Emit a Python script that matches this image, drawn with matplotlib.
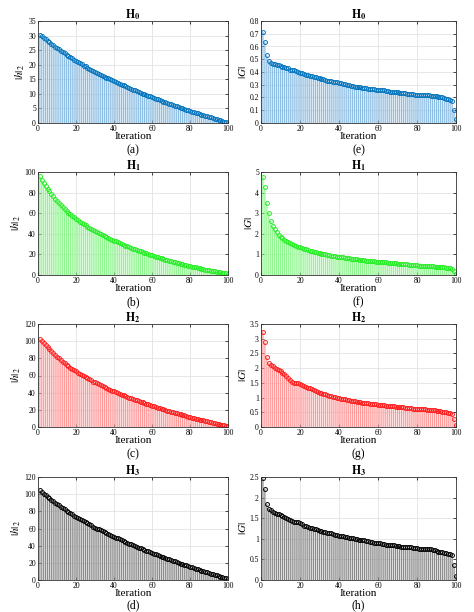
import matplotlib
matplotlib.use("Agg")
import matplotlib.pyplot as plt
import numpy as np

plt.rcParams['font.family'] = ['Liberation Serif', 'DejaVu Serif']
plt.rcParams['mathtext.fontset'] = 'stix'

iterations = list(range(1, 101))

h_H0 = [30.2, 29.7, 29.2, 28.7, 28.2, 27.7, 27.2, 26.7, 26.2, 25.7,
        25.3, 24.8, 24.4, 23.9, 23.5, 23.0, 22.6, 22.2, 21.7, 21.3,
        20.9, 20.5, 20.1, 19.7, 19.4, 19.0, 18.6, 18.3, 17.9, 17.6,
        17.2, 16.9, 16.6, 16.2, 15.9, 15.6, 15.3, 15.0, 14.7, 14.4,
        14.1, 13.8, 13.5, 13.2, 12.9, 12.6, 12.3, 12.0, 11.7, 11.4,
        11.2, 10.9, 10.6, 10.3, 10.1, 9.8, 9.6, 9.3, 9.1, 8.8,
        8.6, 8.3, 8.1, 7.8, 7.6, 7.3, 7.1, 6.8, 6.6, 6.4,
        6.1, 5.9, 5.7, 5.4, 5.2, 5.0, 4.8, 4.5, 4.3, 4.1,
        3.9, 3.7, 3.5, 3.3, 3.1, 2.9, 2.7, 2.5, 2.3, 2.1,
        1.9, 1.7, 1.5, 1.3, 1.1, 0.9, 0.7, 0.5, 0.3, 0.1]

h_H1 = [95.8, 92.6, 89.5, 86.6, 83.8, 81.2, 78.7, 76.3, 74.0, 71.8,
        69.7, 67.7, 65.8, 64.0, 62.3, 60.6, 59.0, 57.5, 56.0, 54.6,
        53.2, 51.9, 50.6, 49.4, 48.2, 47.0, 45.9, 44.8, 43.7, 42.7,
        41.7, 40.7, 39.7, 38.8, 37.8, 36.9, 36.0, 35.1, 34.3, 33.4,
        32.6, 31.8, 31.0, 30.2, 29.4, 28.6, 27.9, 27.1, 26.4, 25.7,
        25.0, 24.3, 23.6, 22.9, 22.2, 21.6, 20.9, 20.3, 19.7, 19.1,
        18.5, 17.9, 17.3, 16.7, 16.1, 15.6, 15.0, 14.5, 14.0, 13.4,
        12.9, 12.4, 11.9, 11.4, 10.9, 10.5, 10.0, 9.5, 9.1, 8.6,
        8.2, 7.8, 7.3, 6.9, 6.5, 6.1, 5.7, 5.3, 5.0, 4.6,
        4.2, 3.9, 3.5, 3.2, 2.8, 2.5, 2.1, 1.8, 1.5, 1.1]

h_H2 = [102.5, 100.0, 97.6, 95.2, 92.9, 90.6, 88.4, 86.2, 84.1, 82.0,
        80.0, 78.1, 76.2, 74.4, 72.6, 70.9, 69.3, 67.7, 66.2, 64.7,
        63.3, 61.9, 60.5, 59.2, 57.9, 56.6, 55.4, 54.2, 53.0, 51.9,
        50.8, 49.7, 48.6, 47.5, 46.5, 45.4, 44.4, 43.4, 42.4, 41.5,
        40.5, 39.6, 38.7, 37.8, 36.9, 36.0, 35.1, 34.3, 33.4, 32.6,
        31.8, 31.0, 30.2, 29.4, 28.6, 27.9, 27.1, 26.4, 25.6, 24.9,
        24.2, 23.4, 22.7, 22.0, 21.3, 20.6, 19.9, 19.2, 18.6, 17.9,
        17.2, 16.6, 15.9, 15.3, 14.7, 14.0, 13.4, 12.8, 12.2, 11.6,
        11.0, 10.4, 9.8, 9.3, 8.7, 8.1, 7.6, 7.0, 6.5, 6.0,
        5.4, 4.9, 4.4, 3.9, 3.4, 2.9, 2.4, 1.9, 1.4, 1.0]

h_H3 = [104.5, 102.6, 100.7, 98.9, 97.1, 95.3, 93.6, 91.9, 90.2, 88.6,
        87.0, 85.4, 83.8, 82.3, 80.8, 79.3, 77.8, 76.4, 75.0, 73.6,
        72.3, 71.0, 69.7, 68.4, 67.1, 65.9, 64.7, 63.5, 62.3, 61.1,
        60.0, 58.9, 57.8, 56.7, 55.6, 54.5, 53.5, 52.4, 51.4, 50.4,
        49.4, 48.4, 47.4, 46.4, 45.4, 44.4, 43.5, 42.5, 41.6, 40.6,
        39.7, 38.8, 37.8, 36.9, 36.0, 35.1, 34.2, 33.3, 32.4, 31.6,
        30.7, 29.8, 29.0, 28.1, 27.3, 26.4, 25.6, 24.8, 24.0, 23.2,
        22.4, 21.6, 20.8, 20.0, 19.2, 18.4, 17.6, 16.9, 16.1, 15.4,
        14.6, 13.9, 13.1, 12.4, 11.7, 10.9, 10.2, 9.5, 8.8, 8.1,
        7.4, 6.7, 6.0, 5.3, 4.6, 3.9, 3.2, 2.5, 1.8, 1.1]

G_H0 = [0.714, 0.636, 0.530, 0.490, 0.472, 0.463, 0.460, 0.457, 0.452, 0.447,
        0.443, 0.440, 0.435, 0.428, 0.418, 0.413, 0.415, 0.410, 0.402, 0.395,
        0.390, 0.384, 0.379, 0.375, 0.370, 0.366, 0.361, 0.357, 0.352, 0.350,
        0.348, 0.346, 0.338, 0.333, 0.329, 0.326, 0.324, 0.321, 0.318, 0.313,
        0.310, 0.306, 0.302, 0.299, 0.295, 0.292, 0.289, 0.285, 0.283, 0.281,
        0.279, 0.277, 0.275, 0.273, 0.270, 0.267, 0.265, 0.263, 0.262, 0.261,
        0.260, 0.258, 0.255, 0.252, 0.249, 0.247, 0.246, 0.244, 0.242, 0.240,
        0.238, 0.236, 0.234, 0.232, 0.231, 0.229, 0.227, 0.225, 0.222, 0.220,
        0.219, 0.218, 0.218, 0.217, 0.217, 0.216, 0.215, 0.214, 0.212, 0.208,
        0.205, 0.202, 0.200, 0.197, 0.192, 0.185, 0.178, 0.172, 0.102, 0.030]

G_H1 = [4.75, 4.25, 3.50, 3.00, 2.62, 2.38, 2.22, 2.08, 1.96, 1.86,
        1.78, 1.71, 1.65, 1.60, 1.55, 1.50, 1.46, 1.42, 1.38, 1.34,
        1.30, 1.27, 1.24, 1.21, 1.18, 1.15, 1.13, 1.10, 1.08, 1.06,
        1.04, 1.02, 1.00, 0.98, 0.96, 0.94, 0.92, 0.90, 0.89, 0.87,
        0.86, 0.85, 0.83, 0.82, 0.81, 0.79, 0.78, 0.77, 0.76, 0.75,
        0.74, 0.73, 0.72, 0.70, 0.69, 0.68, 0.67, 0.66, 0.65, 0.64,
        0.63, 0.62, 0.61, 0.61, 0.60, 0.59, 0.58, 0.57, 0.56, 0.55,
        0.54, 0.53, 0.53, 0.52, 0.51, 0.50, 0.49, 0.49, 0.48, 0.47,
        0.46, 0.46, 0.45, 0.44, 0.44, 0.43, 0.42, 0.42, 0.41, 0.40,
        0.40, 0.39, 0.38, 0.37, 0.36, 0.35, 0.33, 0.30, 0.19, 0.07]

G_H2 = [3.24, 2.88, 2.38, 2.17, 2.12, 2.07, 2.02, 1.98, 1.93, 1.89,
        1.84, 1.79, 1.74, 1.67, 1.60, 1.53, 1.50, 1.49, 1.48, 1.46,
        1.43, 1.40, 1.37, 1.34, 1.31, 1.28, 1.25, 1.22, 1.19, 1.17,
        1.15, 1.13, 1.11, 1.09, 1.07, 1.05, 1.03, 1.01, 0.99, 0.97,
        0.96, 0.95, 0.94, 0.93, 0.91, 0.90, 0.89, 0.88, 0.86, 0.85,
        0.84, 0.83, 0.82, 0.81, 0.80, 0.79, 0.78, 0.77, 0.77, 0.76,
        0.76, 0.75, 0.74, 0.73, 0.72, 0.71, 0.70, 0.70, 0.69, 0.68,
        0.68, 0.67, 0.67, 0.66, 0.65, 0.64, 0.63, 0.62, 0.62, 0.61,
        0.61, 0.60, 0.60, 0.60, 0.59, 0.59, 0.58, 0.58, 0.57, 0.56,
        0.55, 0.54, 0.52, 0.51, 0.50, 0.48, 0.47, 0.45, 0.28, 0.08]

G_H3 = [2.47, 2.21, 1.85, 1.73, 1.69, 1.66, 1.63, 1.60, 1.59, 1.58,
        1.56, 1.54, 1.51, 1.48, 1.45, 1.42, 1.41, 1.40, 1.40, 1.38,
        1.35, 1.32, 1.30, 1.28, 1.27, 1.26, 1.25, 1.23, 1.21, 1.19,
        1.18, 1.17, 1.16, 1.15, 1.14, 1.13, 1.12, 1.10, 1.09, 1.08,
        1.07, 1.06, 1.05, 1.04, 1.03, 1.02, 1.01, 1.00, 0.99, 0.98,
        0.97, 0.96, 0.96, 0.95, 0.94, 0.93, 0.92, 0.91, 0.90, 0.89,
        0.89, 0.88, 0.87, 0.86, 0.86, 0.85, 0.84, 0.84, 0.83, 0.82,
        0.82, 0.81, 0.81, 0.80, 0.80, 0.79, 0.79, 0.78, 0.77, 0.77,
        0.76, 0.76, 0.76, 0.76, 0.76, 0.76, 0.75, 0.74, 0.72, 0.71,
        0.69, 0.68, 0.67, 0.66, 0.65, 0.63, 0.62, 0.61, 0.37, 0.10]

titles = [r'$\mathbf{H_0}$', r'$\mathbf{H_1}$', r'$\mathbf{H_2}$', r'$\mathbf{H_3}$']
colors = ['#0072BD', '#22EE22', '#FF1A1A', '#000000']
stem_colors = ['#8cbde3', '#8ff58f', '#ff9a9a', '#8a8a8a']
left_series = [h_H0, h_H1, h_H2, h_H3]
right_series = [G_H0, G_H1, G_H2, G_H3]
left_ylims = [35, 100, 120, 120]
left_yticks = [np.arange(0, 36, 5), np.arange(0, 101, 20), np.arange(0, 121, 20), np.arange(0, 121, 20)]
right_ylims = [0.8, 5, 3.5, 2.5]
right_yticks = [np.arange(0, 0.81, 0.1), np.arange(0, 5.1, 1), np.arange(0, 3.51, 0.5), np.arange(0, 2.51, 0.5)]
left_caps = ['(a)', '(b)', '(c)', '(d)']
right_caps = ['(e)', '(f)', '(g)', '(h)']

W, H = 474, 612
fig = plt.figure(figsize=(W / 100, H / 100), dpi=100)

row_px = [(21, 123), (172, 275), (324, 427), (477, 580)]
cap_px = [150, 302, 454, 605]
left_px = (38, 228)
right_px = (261, 456)


def fmt_tick(v):
    return ('%.2f' % v).rstrip('0').rstrip('.')


def draw(ax, y, color, scolor, ylim, yticks, title, ylabel, cap, cap_y):
    markerline, stemlines, baseline = ax.stem(iterations, y)
    stemlines.set_color(scolor)
    stemlines.set_linewidth(0.9)
    stemlines.set_snap(False)
    plt.setp(markerline, color=color, marker='o', markersize=2.8,
             markerfacecolor='none', markeredgewidth=0.7, linestyle='none')
    plt.setp(baseline, visible=False)
    ax.set_xlim(0, 100)
    ax.set_ylim(0, ylim)
    ax.set_xticks(np.arange(0, 101, 20))
    ax.set_yticks(yticks)
    ax.set_yticklabels([fmt_tick(v) for v in yticks])
    ax.grid(True, color='#e3e3e3', linewidth=0.6)
    ax.set_axisbelow(True)
    ax.tick_params(direction='in', length=2, width=0.5, labelsize=5.5, pad=1.5,
                   top=True, right=True)
    for sp in ax.spines.values():
        sp.set_linewidth(0.6)
        sp.set_color('#333333')
    ax.set_title(title, fontsize=8.5, pad=2)
    ax.set_xlabel('Iteration', fontsize=8, labelpad=-0.5)
    ax.set_ylabel(ylabel, fontsize=8, labelpad=1)
    pos = ax.get_position()
    fig.text((pos.x0 + pos.x1) / 2, 1 - cap_y / H, cap,
             ha='center', va='center', fontsize=8.5)


for i in range(4):
    top, bot = row_px[i]
    axl = fig.add_axes([left_px[0] / W, 1 - bot / H, (left_px[1] - left_px[0]) / W, (bot - top) / H])
    draw(axl, left_series[i], colors[i], stem_colors[i], left_ylims[i], left_yticks[i],
         titles[i], r'$|h|_2$', left_caps[i], cap_px[i])
    axr = fig.add_axes([right_px[0] / W, 1 - bot / H, (right_px[1] - right_px[0]) / W, (bot - top) / H])
    draw(axr, right_series[i], colors[i], stem_colors[i], right_ylims[i], right_yticks[i],
         titles[i], r'$|G|$', right_caps[i], cap_px[i])

fig.savefig('out.png', dpi=100, facecolor='white')
